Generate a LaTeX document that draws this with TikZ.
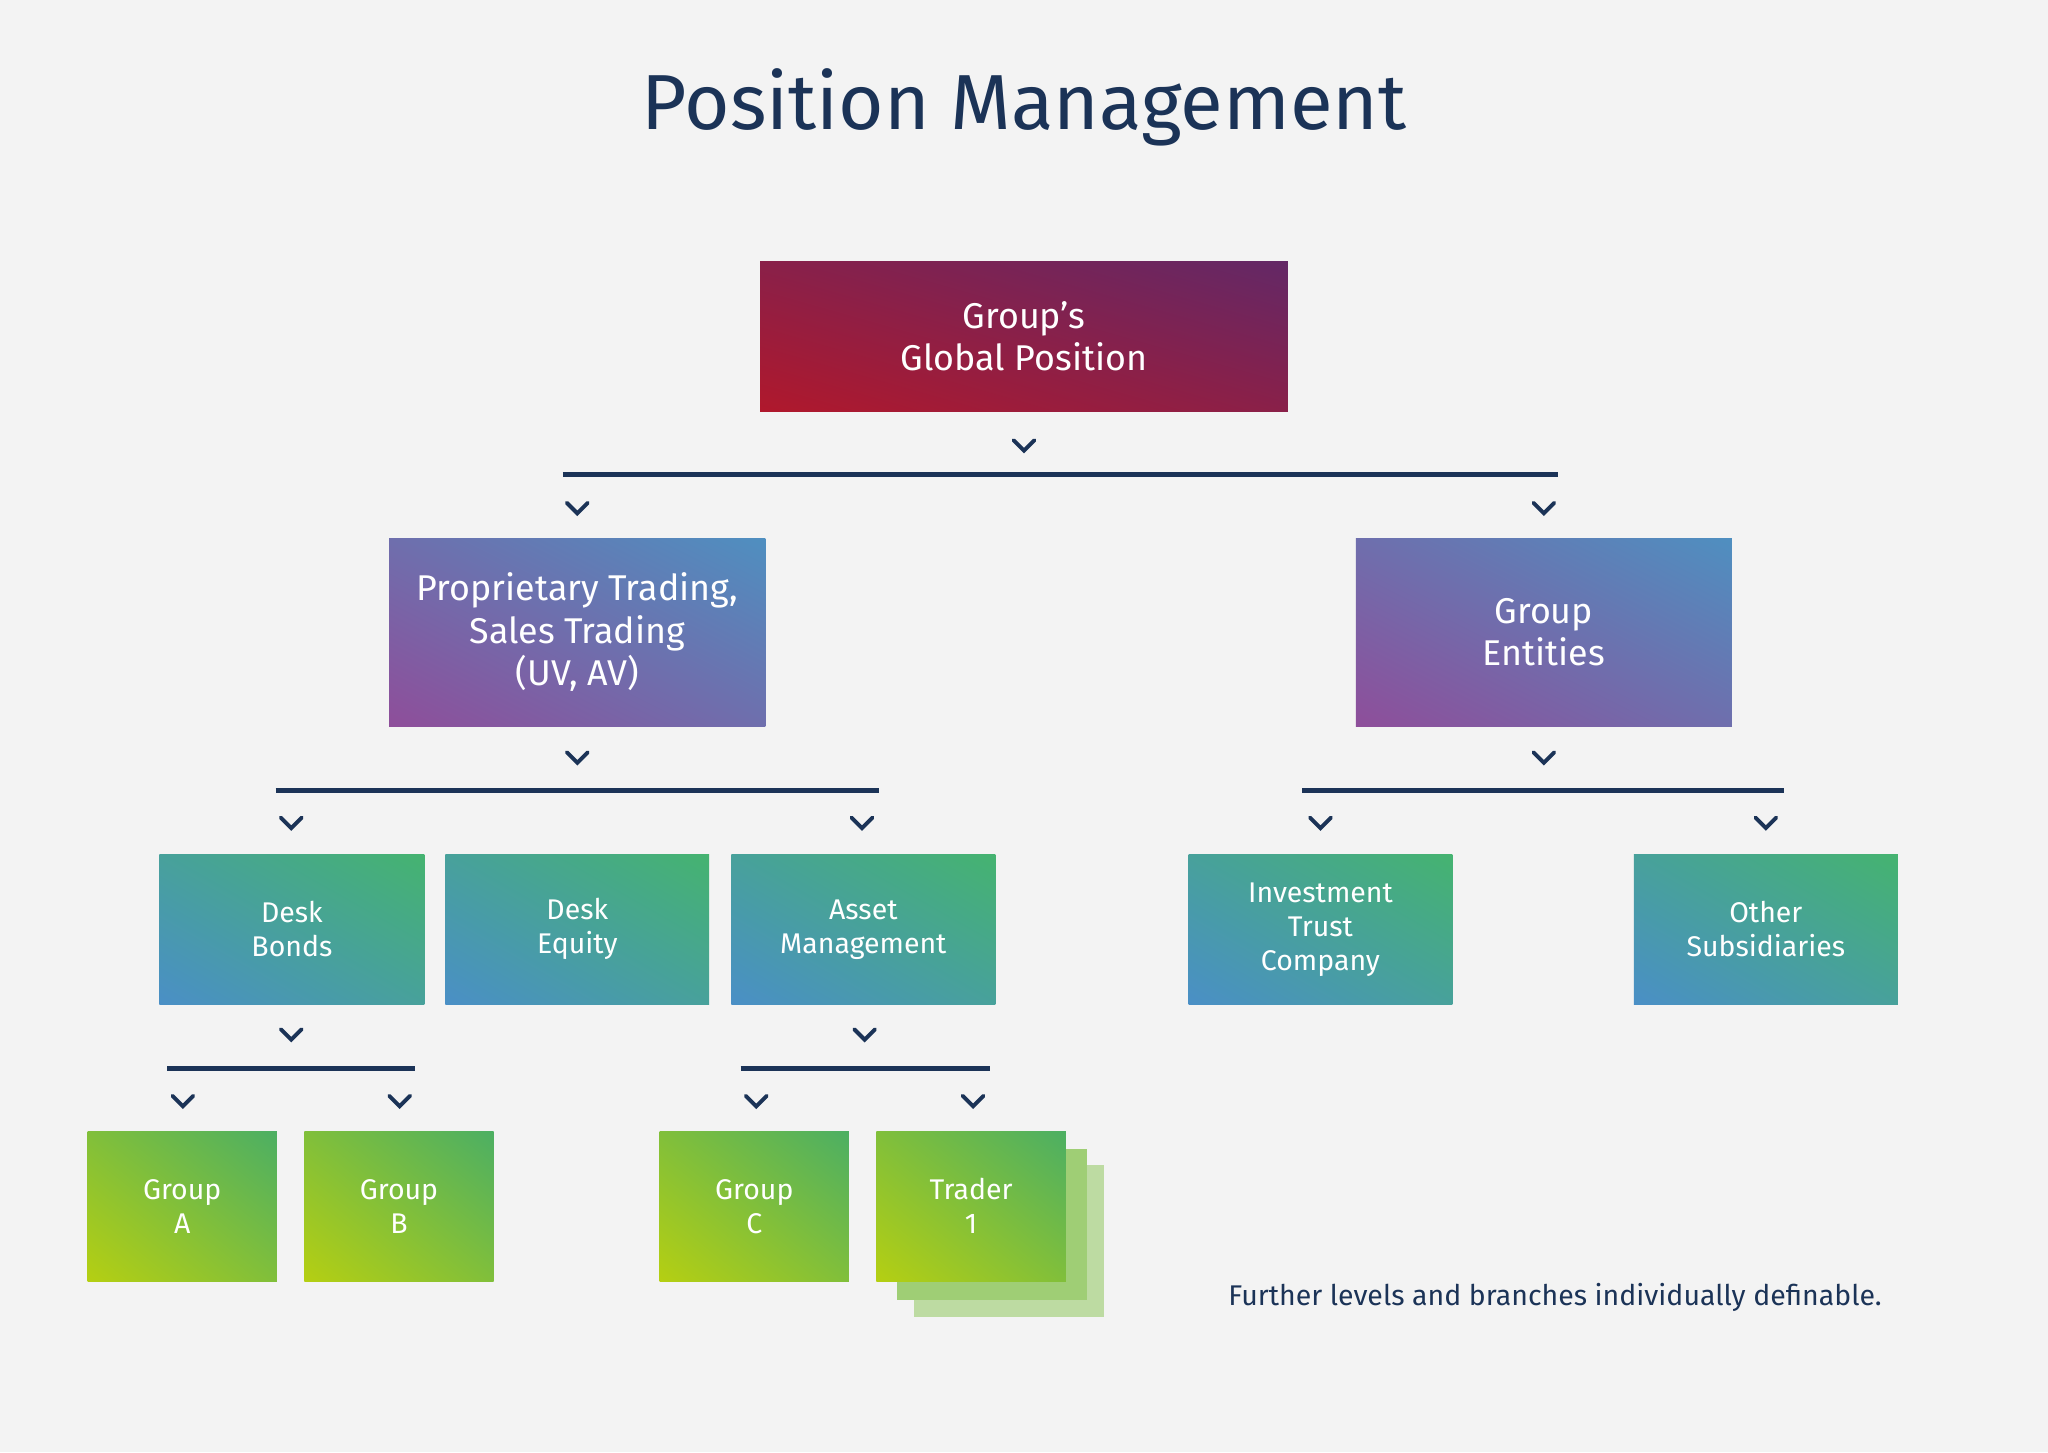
\documentclass[tikz,border=0pt]{standalone}
\usepackage{fontspec}
\setmainfont{Fira Sans}
\usetikzlibrary{shadings}
\definecolor{navy}{HTML}{1B3357}
\definecolor{bg}{HTML}{F3F3F3}
\begin{document}
\begin{tikzpicture}[x=0.01cm,y=-0.01cm,
  chev/.style={draw=navy,line width=0.03cm,line cap=round,line join=miter},
  bar/.style={draw=navy,line width=0.04cm},
  txt/.style={text=white,align=center,font=\fontsize{6.2}{7.4}\selectfont\linespread{0.9}},
  big/.style={text=white,align=center,font=\fontsize{7.8}{9.2}\selectfont}]
\fill[bg] (0,0) rectangle (1568,1112);
\useasboundingbox (0,0) rectangle (1568,1112);
\node[text=navy,font=\fontsize{17}{20}\selectfont] (title) at (784,82) {Position Management};
\newcommand{\gbox}[8]{%
  \shade[lower left=#6,upper right=#7,lower right=#6!50!#7,upper left=#6!50!#7] (#2,#3) rectangle (#4,#5);
  \node[#8] (#1) at ({(#2+#4)/2},{(#3+#5)/2}) }
\definecolor{r1}{HTML}{B0182C}\definecolor{r2}{HTML}{632866}
\definecolor{p1}{HTML}{8E4E9A}\definecolor{p2}{HTML}{4F8FC0}
\definecolor{b1}{HTML}{4A8FC6}\definecolor{b2}{HTML}{45B370}
\definecolor{g1}{HTML}{B5CF12}\definecolor{g2}{HTML}{4CAF63}
\gbox{top}{582}{200}{986}{315}{r1}{r2}{big}{Group’s\\Global Position};
\gbox{prop}{298}{412}{586}{556}{p1}{p2}{big}{Proprietary Trading,\\Sales Trading\\(UV, AV)};
\gbox{ent}{1038}{412}{1326}{556}{p1}{p2}{big}{Group\\Entities};
\gbox{bonds}{122}{654}{325}{769}{b1}{b2}{txt}{Desk\\Bonds};
\gbox{equity}{341}{654}{543}{769}{b1}{b2}{txt}{Desk\\Equity};
\gbox{asset}{560}{654}{762}{769}{b1}{b2}{txt}{Asset\\Management};
\gbox{itc}{910}{654}{1112}{769}{b1}{b2}{txt}{Investment\\Trust\\Company};
\gbox{other}{1251}{654}{1453}{769}{b1}{b2}{txt}{Other\\Subsidiaries};
\gbox{ga}{67}{866}{212}{981}{g1}{g2}{txt}{Group\\A};
\gbox{gb}{233}{866}{378}{981}{g1}{g2}{txt}{Group\\B};
\gbox{gc}{505}{866}{650}{981}{g1}{g2}{txt}{Group\\C};
\fill[g1!45!g2!45!bg] (700,892) rectangle (845,1008);
\fill[g1!45!g2!70!bg] (687,880) rectangle (832,995);
\gbox{t1}{671}{866}{816}{981}{g1}{g2}{txt}{Trader\\1};
\node[text=navy,anchor=east,font=\fontsize{6.2}{7.4}\selectfont] (note) at (1453,993) {Further levels and branches individually definable.};
\foreach \x/\y in {784/341,442/389,1182/389,442/580,1182/580,223/630,660/630,1011/630,1352/630,223/792,662/792,140/843,306/843,579/843,745/843}
  \draw[chev] (\x-8,\y-4) -- (\x,\y+4) -- (\x+8,\y-4);
\coordinate (b1a) at (431,363); \coordinate (b1b) at (1193,363);
\coordinate (b2a) at (211,605); \coordinate (b2b) at (673,605);
\coordinate (b3a) at (997,605); \coordinate (b3b) at (1366,605);
\coordinate (b4a) at (128,818); \coordinate (b4b) at (318,818);
\coordinate (b5a) at (567,818); \coordinate (b5b) at (758,818);
\foreach \i in {1,...,5} \draw[bar] (b\i a) -- (b\i b);
\end{tikzpicture}
\end{document}
